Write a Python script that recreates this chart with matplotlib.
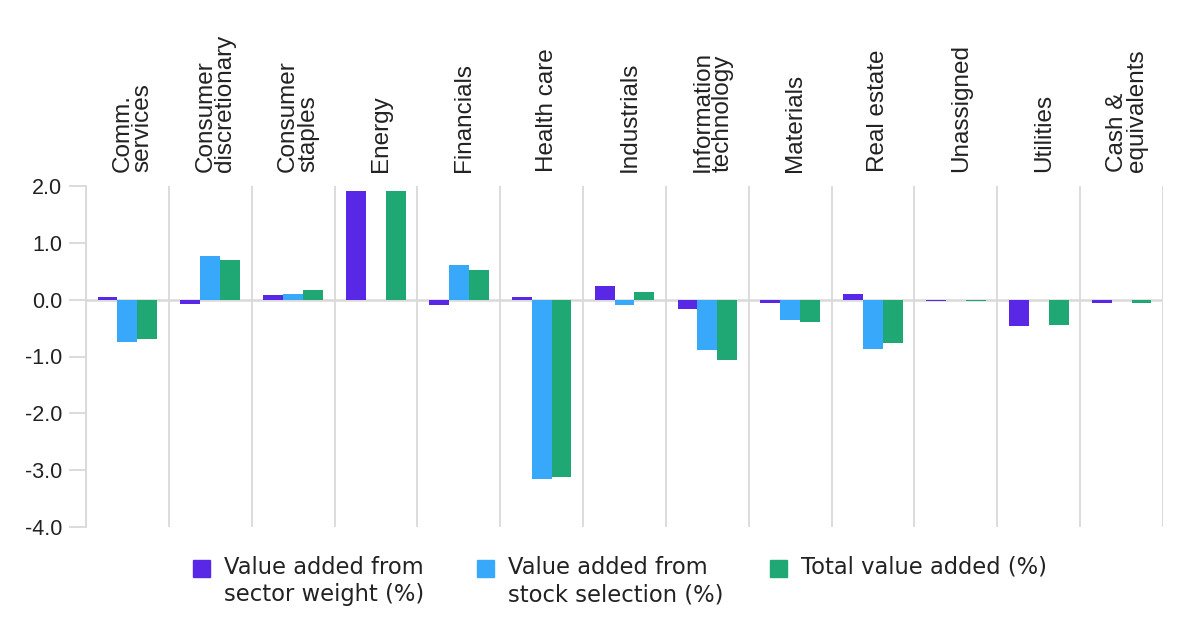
import numpy as np
import matplotlib.pyplot as plt
from matplotlib.patches import Rectangle

plt.rcParams['font.family'] = ['Liberation Sans', 'DejaVu Sans']

# Sectors and series values (%)
sectors = ['Comm.\nservices', 'Consumer\ndiscretionary', 'Consumer\nstaples', 'Energy',
           'Financials', 'Health care', 'Industrials', 'Information\ntechnology',
           'Materials', 'Real estate', 'Unassigned', 'Utilities', 'Cash &\nequivalents']
sector_weight = [0.05, -0.07, 0.08, 1.91, -0.10, 0.05, 0.24, -0.17, -0.05, 0.10, -0.02, -0.46, -0.05]
stock_selection = [-0.74, 0.77, 0.10, 0.0, 0.61, -3.15, -0.10, -0.89, -0.36, -0.87, 0.0, 0.0, 0.0]
total_added = [-0.69, 0.70, 0.17, 1.91, 0.52, -3.12, 0.14, -1.07, -0.40, -0.77, -0.02, -0.45, -0.05]

series_labels = ['Value added from\nsector weight (%)', 'Value added from\nstock selection (%)',
                 'Total value added (%)']
colors = ['#5828E6', '#38A8FB', '#1FA874']
yticks = [2.0, 1.0, 0.0, -1.0, -2.0, -3.0, -4.0]

W, H = 1187, 617
fig = plt.figure(figsize=(W / 100, H / 100), dpi=100)
ax = fig.add_axes([86 / W, 1 - 527 / H, (1163 - 86) / W, (527 - 186) / H])

x = np.arange(len(sectors))
w = 0.24
grid_c = '#d9d9d9'
text_c = '#222222'

# category separators
for b in np.arange(len(sectors) + 1) - 0.5:
    ax.axvline(b, color=grid_c, lw=1.3, zorder=0)
ax.axhline(0, color=grid_c, lw=1.8, zorder=1)

for k, vals in enumerate([sector_weight, stock_selection, total_added]):
    ax.bar(x + (k - 1) * w, vals, width=w, color=colors[k], zorder=2)

ax.set_xlim(-0.5, len(sectors) - 0.5)
ax.set_ylim(-4.0, 2.0)
ax.set_yticks(yticks)
ax.set_yticklabels([f'{v:.1f}' for v in yticks], fontsize=15.5, color=text_c)
ax.set_xticks([])
for s in ['top', 'right', 'bottom']:
    ax.spines[s].set_visible(False)
ax.spines['left'].set_color(grid_c)
ax.spines['left'].set_linewidth(1.3)
ax.tick_params(axis='y', length=12, width=1.3, color=grid_c, pad=5)

# sector labels, rotated above the plot
for i, name in enumerate(sectors):
    ax.text(i + 0.06, 2.24, name, rotation=90, ha='center', va='bottom',
            multialignment='left', fontsize=17.5, color=text_c, linespacing=0.88)

# legend below the plot, squares aligned with first text line
leg_x = [193, 477, 770]
for k, lab in enumerate(series_labels):
    fig.patches.append(Rectangle((leg_x[k] / W, 1 - 577 / H), 17 / W, 17 / H,
                                 transform=fig.transFigure, color=colors[k]))
    fig.text((leg_x[k] + 31) / W, 1 - 556 / H, lab, ha='left', va='top',
             fontsize=16.3, color=text_c, family='DejaVu Sans', linespacing=1.25)

fig.savefig('out.png', dpi=100)
